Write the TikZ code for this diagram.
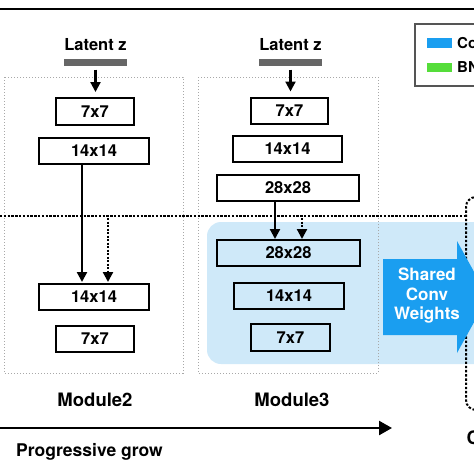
\documentclass[tikz,border=0pt]{standalone}
\usepackage{fontspec}
\setmainfont{TeX Gyre Heros}
\usetikzlibrary{arrows.meta}
\definecolor{lblue}{HTML}{CFE9F9}
\definecolor{cblue}{HTML}{1A9EF0}
\definecolor{bngreen}{HTML}{55DD3A}
\definecolor{bargray}{HTML}{666666}
\definecolor{dgray}{HTML}{A8A8A8}
\definecolor{leggray}{HTML}{555555}
\begin{document}
\begin{tikzpicture}[x=1pt,y=-1pt,
  blk/.style={draw,line width=2pt,inner sep=0pt,minimum height=26pt,
    font=\fontsize{16.5}{18}\selectfont\bfseries},
  bar/.style={fill=bargray,inner sep=0pt,minimum width=63pt,minimum height=7pt},
  lab/.style={inner sep=0pt,font=\fontsize{16.5}{18}\selectfont\bfseries},
  modlab/.style={inner sep=0pt,font=\fontsize{18.5}{20}\selectfont\bfseries},
  arr/.style={line width=2.2pt,-{Triangle[width=10pt,length=10pt]}},
  darr/.style={line width=2.2pt,dash pattern=on 2pt off 1.5pt,-{Triangle[width=10pt,length=10pt]}},
  gbox/.style={draw=dgray,line width=1pt,dash pattern=on 1.4pt off 1.6pt},
  hdot/.style={line width=2.8pt,dash pattern=on 2.4pt off 1.4pt}
]
\useasboundingbox (0,0) rectangle (474,474);
\clip (0,0) rectangle (474,474);

% light blue region
\fill[lblue,rounded corners=14pt] (207,222) rectangle (540,364);

% top rule
\draw[line width=2.5pt] (0,9) -- (474,9);

% legend
\draw[leggray,line width=1.5pt] (415,24) rectangle (500,86);
\fill[cblue] (427,38) rectangle (452,48);
\fill[bngreen] (427,63) rectangle (452,72);
\node[lab,anchor=west,font=\fontsize{15}{17}\selectfont\bfseries] (legc) at (457,43) {Co};
\node[lab,anchor=west,font=\fontsize{15}{17}\selectfont\bfseries] (legb) at (457,67.5) {BN};

% dotted module boxes
\draw[gbox] (4,77) rectangle (183,373);
\draw[gbox] (198,77) rectangle (378,373);

% dashed rounded box at right
\draw[line width=2pt,dash pattern=on 2.4pt off 1.8pt,rounded corners=10pt]
  (520,197) -- (466,197) -- (466,410) -- (520,410);

% horizontal dotted separator
\draw[hdot] (0,216) -- (465,216);

% Module 2
\node[lab,anchor=base] (lat1) at (95.5,50) {Latent z};
\node[bar] (bar1) at (95.5,62.5) {};
\node[blk,minimum width=78pt,minimum height=27pt] (A1) at (95,111.5) {7x7};
\node[blk,minimum width=110pt] (A2) at (94,151) {14x14};
\node[blk,minimum width=110pt] (A3) at (94,297) {14x14};
\node[blk,minimum width=78pt] (A4) at (95,339) {7x7};
\draw[arr,shorten <=3.5pt,shorten >=5pt] (bar1.south) -- (bar1.south |- A1.north);
\coordinate (sL) at (82,0);
\coordinate (dL) at (108,218);
\draw[arr,shorten >=1pt] (A2.south -| sL) -- (A3.north -| sL);
\draw[darr,shorten >=1pt] (dL) -- (A3.north -| dL);
\node[modlab] (m2) at (95,400) {Module2};

% Module 3
\node[lab,anchor=base] (lat2) at (290.5,50) {Latent z};
\node[bar] (bar2) at (290.5,62.5) {};
\node[blk,minimum width=77pt] (B1) at (289.5,110.5) {7x7};
\node[blk,minimum width=109pt] (B2) at (287.5,149) {14x14};
\node[blk,minimum width=142pt] (B3) at (288,188) {28x28};
\node[blk,minimum width=143pt] (B4) at (288.5,253) {28x28};
\node[blk,minimum width=110pt] (B5) at (289,296) {14x14};
\node[blk,minimum width=79pt,minimum height=27pt] (B6) at (290.5,337.5) {7x7};
\draw[arr,shorten <=3.5pt,shorten >=5pt] (bar2.south) -- (bar2.south |- B1.north);
\coordinate (sM) at (275,0);
\coordinate (dM) at (302,218);
\draw[arr] (B3.south -| sM) -- (B4.north -| sM);
\draw[darr] (dM) -- (B4.north -| dM);
\node[modlab] (m3) at (292,400) {Module3};

% shared conv weights arrow
\fill[cblue] (383,259) -- (457,259) -- (457,241) -- (488,297) -- (457,353) -- (457,335) -- (383,335) -- cycle;
\node[inner sep=0pt,align=center,text=white,font=\fontsize{17}{19.5}\selectfont\bfseries] (shared) at (427,296) {Shared\\Conv\\Weights};

% progressive grow
\coordinate (pg0) at (0,428);
\coordinate (pg1) at (392,428);
\draw[line width=2.5pt,-{Triangle[width=14pt,length=13pt]}] (pg0) -- (pg1);
\node[modlab,anchor=base west,font=\fontsize{17.5}{19}\selectfont\bfseries] (pg) at (16,456.5) {Progressive grow};
\node[modlab,anchor=west] (cc) at (466.5,438) {C};
\end{tikzpicture}
\end{document}
